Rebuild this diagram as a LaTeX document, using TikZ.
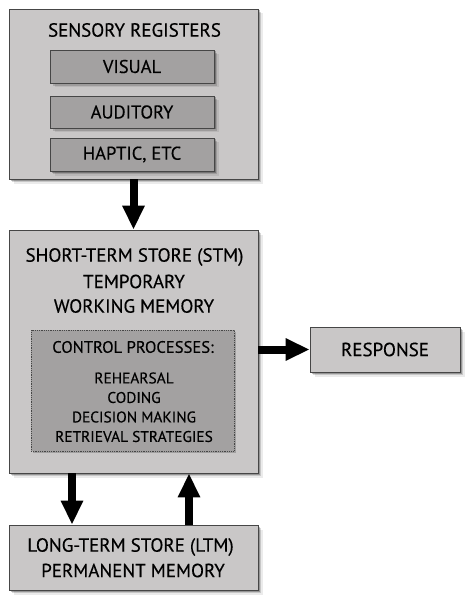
\documentclass[tikz,border=0pt]{standalone}
\usepackage{fontspec}
\setmainfont[FakeBold=0.3]{PT Sans}
\usetikzlibrary{arrows.meta,shadows}
\definecolor{boxlight}{RGB}{201,199,199}
\definecolor{boxdark}{RGB}{163,161,161}
\definecolor{boxline}{RGB}{70,70,70}
\tikzset{
  softshadow/.style={
    drop shadow={shadow xshift=1.5pt,shadow yshift=-1.5pt,opacity=0.25,fill=black},
    drop shadow={shadow xshift=3pt,shadow yshift=-3pt,opacity=0.15,fill=black},
    drop shadow={shadow xshift=4.5pt,shadow yshift=-4.5pt,opacity=0.08,fill=black}},
  outerbox/.style={draw=boxline,line width=0.8pt,fill=boxlight,softshadow,inner sep=0pt},
  innerbox/.style={draw=boxline,line width=0.8pt,fill=boxdark,softshadow,inner sep=0pt,
    minimum width=164pt,minimum height=33pt,font=\fontsize{18.5}{20}\selectfont},
  ctrlbox/.style={draw=boxline,line width=0.8pt,densely dotted,fill=boxdark,inner sep=0pt,
    drop shadow={shadow xshift=2pt,shadow yshift=-2pt,opacity=0.2,fill=black}},
  bigtxt/.style={font=\fontsize{19}{20}\selectfont,inner sep=0pt},
  midtxt/.style={font=\fontsize{16.6}{19}\selectfont,inner sep=0pt},
  smalltxt/.style={font=\fontsize{15.4}{17}\selectfont,inner sep=0pt},
  bigarrow/.style={line width=8pt,-{Triangle[length=24pt,width=21pt]},shorten >=0pt},
}
\begin{document}
\begin{tikzpicture}[x=1pt,y=-1pt]
\useasboundingbox[fill=white] (0,0) rectangle (474,604);
% sensory registers
\node[outerbox,minimum width=249pt,minimum height=170pt] (sr) at (133.5,94) {};
\node[bigtxt] (srt) at (134.5,30) {SENSORY REGISTERS};
\node[innerbox] (vis) at (132,66.5) {VISUAL};
\node[innerbox,minimum height=32pt] (aud) at (132,112) {AUDITORY};
\node[innerbox] (hap) at (132,154.5) {HAPTIC, ETC};
% STM
\node[outerbox,minimum width=249pt,minimum height=243pt] (stm) at (133.5,351.5) {};
\node[bigtxt] (stm1) at (134.5,257) {SHORT-TERM STORE (STM)};
\node[bigtxt] (stm2) at (134,281.5) {TEMPORARY};
\node[bigtxt] (stm3) at (134,306) {WORKING MEMORY};
\node[ctrlbox,minimum width=203pt,minimum height=121pt] (cp) at (132.5,390.5) {};
\node[midtxt] (cpt) at (133,347) {CONTROL PROCESSES:};
\node[smalltxt] (c1) at (134,378) {REHEARSAL};
\node[smalltxt] (c2) at (134,397.5) {CODING};
\node[smalltxt] (c3) at (134,417) {DECISION MAKING};
\node[smalltxt] (c4) at (134,436.5) {RETRIEVAL STRATEGIES};
% response
\node[outerbox,minimum width=150pt,minimum height=45pt,font=\fontsize{19}{20}\selectfont] (resp) at (385,349.5) {RESPONSE};
% LTM
\node[outerbox,minimum width=249pt,minimum height=65pt] (ltm) at (133.5,557.5) {};
\node[bigtxt] (ltm1) at (130.5,547) {LONG-TERM STORE (LTM)};
\node[bigtxt] (ltm2) at (133,570.5) {PERMANENT MEMORY};
% arrows
\draw[bigarrow] (sr.south) -- (stm.north);
\draw[bigarrow] (stm.east |- resp) -- (resp.west);
\draw[bigarrow] (stm.south -| 72,0) -- (ltm.north -| 72,0);
\draw[bigarrow] (ltm.north -| 189,0) -- (stm.south -| 189,0);
\end{tikzpicture}
\end{document}
